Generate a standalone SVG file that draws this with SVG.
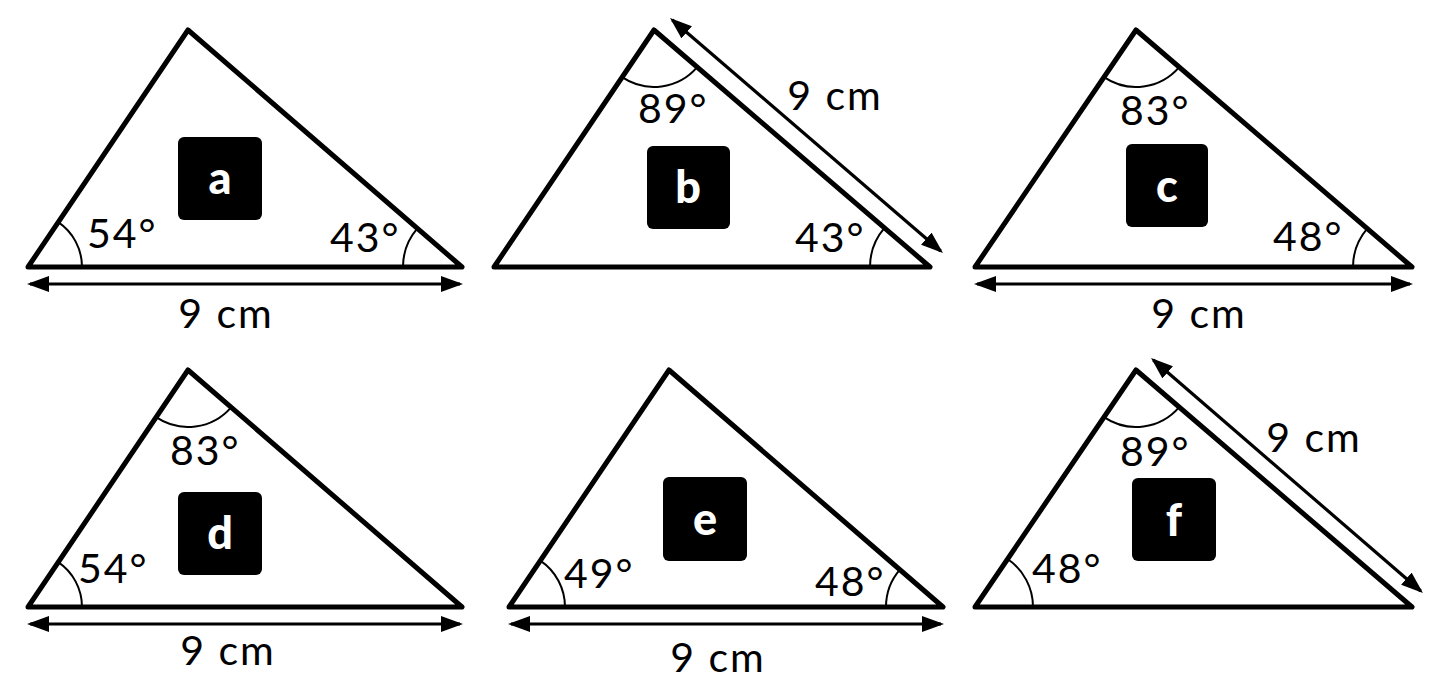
<svg xmlns="http://www.w3.org/2000/svg" width="1442" height="688" viewBox="0 0 1442 688">
<defs>
<style>
.tri{fill:none;stroke:#000;stroke-width:5;stroke-linejoin:round;stroke-linecap:round}
.arc{fill:none;stroke:#000;stroke-width:2}
.dim{fill:none;stroke:#000;stroke-width:3.2;marker-start:url(#ah);marker-end:url(#ah)}
.lbl{font-family:Lato,"Open Sans",sans-serif;font-size:41px;letter-spacing:2px;fill:#000}
.box{fill:#000}
.let{font-family:Lato,"Open Sans",sans-serif;font-size:45px;font-weight:900;fill:#fff;text-anchor:middle}
</style>
<marker id="ah" viewBox="0 0 22 16" refX="19" refY="8" markerWidth="22" markerHeight="16" markerUnits="userSpaceOnUse" orient="auto-start-reverse">
<path d="M0,0 L22,8 L0,16 Z" fill="#000"/>
</marker>
</defs>
<rect width="1442" height="688" fill="#fff"/>

<g id="tri-a">
<polygon class="tri" points="28,267 188,30 462,267"/>
<path class="arc" d="M82,267 A54,54 0 0 0 58.2,222.2"/>
<path class="arc" d="M403,267 A59,59 0 0 1 417.4,228.4"/>
<text class="lbl" x="87" y="248">54°</text>
<text class="lbl" x="330" y="252">43°</text>
<text class="lbl" x="226" y="328" text-anchor="middle">9 cm</text>
<rect class="box" x="178" y="137" width="84" height="83" rx="6"/>
<text class="let" x="220" y="194">a</text>
</g>

<g id="tri-b">
<polygon class="tri" points="494,267 654,30 930,267"/>
<path class="arc" d="M622.1,77.2 A57,57 0 0 0 697.2,67.1"/>
<path class="arc" d="M870,267 A60,60 0 0 1 884.5,227.9"/>
<text class="lbl" x="638" y="123">89°</text>
<text class="lbl" x="795" y="252">43°</text>
<text class="lbl" x="835" y="110" text-anchor="middle">9 cm</text>
<rect class="box" x="647" y="146" width="83" height="83" rx="6"/>
<text class="let" x="688" y="203">b</text>
</g>

<g id="tri-c">
<polygon class="tri" points="975,267 1136,30 1412,267"/>
<path class="arc" d="M1104,77.2 A57,57 0 0 0 1179.2,67.1"/>
<path class="arc" d="M1353,267 A59,59 0 0 1 1367.2,228.6"/>
<text class="lbl" x="1120" y="125">83°</text>
<text class="lbl" x="1273" y="251">48°</text>
<text class="lbl" x="1199" y="328" text-anchor="middle">9 cm</text>
<rect class="box" x="1126" y="144" width="82" height="83" rx="6"/>
<text class="let" x="1167" y="202">c</text>
</g>

<g id="tri-d">
<polygon class="tri" points="28,607 188,370 462,607"/>
<path class="arc" d="M156.1,417.2 A57,57 0 0 0 231.1,407.3"/>
<path class="arc" d="M82,607 A54,54 0 0 0 58.2,562.2"/>
<text class="lbl" x="170" y="465">83°</text>
<text class="lbl" x="78" y="583">54°</text>
<text class="lbl" x="228" y="665" text-anchor="middle">9 cm</text>
<rect class="box" x="178" y="492" width="84" height="83" rx="6"/>
<text class="let" x="220" y="549">d</text>
</g>

<g id="tri-e">
<polygon class="tri" points="509,607 669,370 943,607"/>
<path class="arc" d="M565,607 A56,56 0 0 0 540.3,560.6"/>
<path class="arc" d="M886,607 A57,57 0 0 1 899.9,569.7"/>
<text class="lbl" x="564" y="588">49°</text>
<text class="lbl" x="815" y="596">48°</text>
<text class="lbl" x="718" y="672" text-anchor="middle">9 cm</text>
<rect class="box" x="663" y="477" width="84" height="84" rx="6"/>
<text class="let" x="705" y="535">e</text>
</g>

<g id="tri-f">
<polygon class="tri" points="975,607 1136,370 1412,607"/>
<path class="arc" d="M1104,417.2 A57,57 0 0 0 1179.2,407.1"/>
<path class="arc" d="M1033,607 A58,58 0 0 0 1007.6,559"/>
<text class="lbl" x="1120" y="466">89°</text>
<text class="lbl" x="1032" y="583">48°</text>
<text class="lbl" x="1314" y="452" text-anchor="middle">9 cm</text>
<rect class="box" x="1132" y="478" width="84" height="83" rx="6"/>
<text class="let" x="1174" y="536">f</text>
</g>

<g id="connectors">
<line class="dim" x1="30" y1="284" x2="460" y2="284"/>
<line class="dim" x1="672.3" y1="20" x2="940.7" y2="251"/>
<line class="dim" x1="977" y1="284" x2="1410" y2="284"/>
<line class="dim" x1="30" y1="624" x2="460" y2="624"/>
<line class="dim" x1="511" y1="624" x2="941" y2="624"/>
<line class="dim" x1="1153.3" y1="360" x2="1420.7" y2="591"/>
</g>
</svg>
